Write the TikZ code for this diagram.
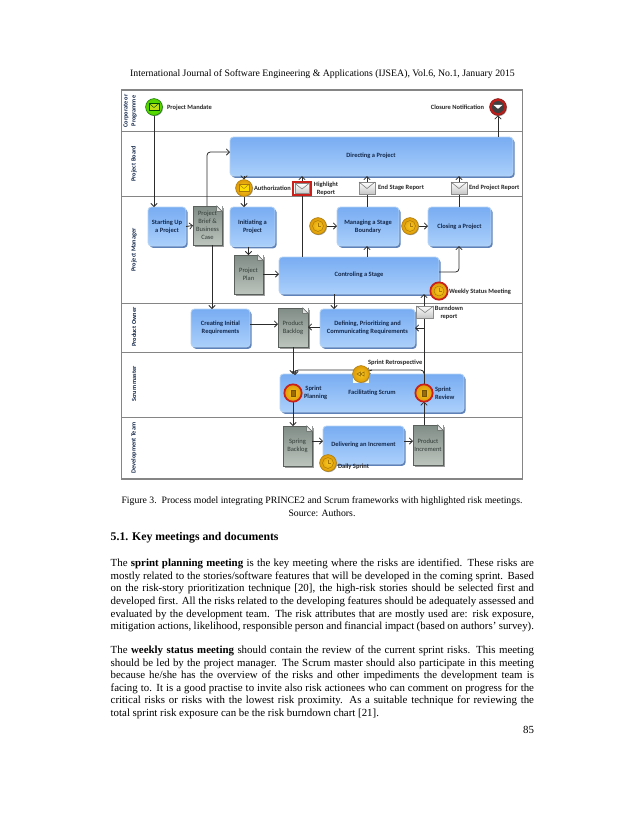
\documentclass[tikz,border=0pt]{standalone}
\usepackage{fontspec}
\setmainfont{Liberation Serif}
\newfontfamily\calb{Carlito}
\usetikzlibrary{arrows.meta,shadows,calc}
\pgfdeclarelayer{back}\pgfdeclarelayer{edge}\pgfdeclarelayer{top}
\pgfsetlayers{back,main,edge,top}
\definecolor{navy}{HTML}{14284A}
\definecolor{edgec}{HTML}{2C2C2C}
\definecolor{laneline}{HTML}{858585}
\definecolor{procrim}{HTML}{B5D4F5}
\definecolor{proctop}{HTML}{78ACF2}
\definecolor{procbot}{HTML}{ABD0FB}
\definecolor{procshade}{HTML}{5F82B8}
\definecolor{docline}{HTML}{5A615D}
\definecolor{doctop}{HTML}{808C86}
\definecolor{docbot}{HTML}{BCC4BD}
\definecolor{docshade}{HTML}{9C9C9C}
\definecolor{doctext}{HTML}{333C38}
\definecolor{goldin}{HTML}{F8C81E}
\definecolor{goldout}{HTML}{DD9A08}
\definecolor{goldrim}{HTML}{A87808}
\definecolor{ringred}{HTML}{C9201C}
\tikzset{
 every node/.style={inner sep=0pt,outer sep=0pt},
 procbox/.style={rectangle,rounded corners=2.6pt,draw=procrim,line width=.6pt,top color=proctop,bottom color=procbot,
   general shadow={fill=procshade,shadow xshift=1.2pt,shadow yshift=-1.4pt},
   align=center,text=navy,font=\calb\bfseries\fontsize{4.85}{6}\selectfont},
 docbox/.style={rectangle,draw=docline,line width=.5pt,top color=doctop,bottom color=docbot,
   general shadow={fill=docshade,shadow xshift=1.3pt,shadow yshift=-1.3pt},
   align=center,text=doctext,font=\calb\fontsize{4.9}{6}\selectfont},
 evlabel/.style={text=black!85,font=\calb\bfseries\fontsize{4.85}{6}\selectfont,align=center},
 lanelabel/.style={rotate=90,text=navy,font=\calb\bfseries\fontsize{4.7}{6}\selectfont,align=center},
 conn/.style={draw=edgec,line width=.6pt,-{Straight Barb[length=2.4pt,width=4.8pt,line width=.55pt]}},
 evcirc/.style={circle,minimum size=12.6pt,general shadow={fill=black!35,shadow xshift=.5pt,shadow yshift=-.6pt}},
 gold/.style={evcirc,inner color=goldin,outer color=goldout,draw=goldrim,line width=.4pt},
 ring/.style={circle,minimum size=13pt,inner color=goldin,outer color=goldout,draw=ringred,line width=1.3pt},
 envbox/.style={rectangle,draw=black!45,line width=.4pt,top color=white,bottom color=black!22},
 para/.style={anchor=west,font=\fontsize{8.15}{10}\selectfont},
}
\newcommand{\proc}[6]{%
 \pgfmathsetmacro\cxx{(#2+#4)/2}\pgfmathsetmacro\cyy{(#3+#5)/2}%
 \pgfmathsetmacro\www{(#4-#2)*.75}\pgfmathsetmacro\hhh{(#5-#3)*.75}%
 \node[procbox,minimum width=\www pt,minimum height=\hhh pt] (#1) at (\cxx,\cyy) {#6};}
\newcommand{\docu}[6]{%
 \pgfmathsetmacro\cxx{(#2+#4)/2}\pgfmathsetmacro\cyy{(#3+#5)/2}%
 \pgfmathsetmacro\www{(#4-#2)*.75}\pgfmathsetmacro\hhh{(#5-#3)*.75}%
 \node[docbox,minimum width=\www pt,minimum height=\hhh pt] (#1) at (\cxx,\cyy) {#6};
 \fill[white] ([xshift=-4pt,yshift=.3pt]#1.north east) -- ([xshift=.3pt,yshift=.3pt]#1.north east) -- ([xshift=.3pt,yshift=-4pt]#1.north east) -- cycle;
 \filldraw[draw=docline,fill=black!12,line width=.4pt] ([xshift=-4pt]#1.north east) -- ([yshift=-4pt]#1.north east) -- ([xshift=-4pt,yshift=-4pt]#1.north east) -- cycle;}
\newcommand{\env}[5]{%
 \node[envbox,minimum width=#4,minimum height=#5] (#1) at (#2,#3) {};
 \draw[black!55,line width=.4pt] (#1.north west) -- ([yshift=-.4pt]#1.center) -- (#1.north east);}
\newcommand{\timer}[3]{%
 \node[gold] (#1) at (#2,#3) {};
 \draw[goldrim,line width=.35pt] (#1) circle[radius=5.5];
 \draw[goldrim,line width=.35pt] ([yshift=2.6pt]#1.center) -- (#1.center) -- ([xshift=2pt]#1.center);}
\newcommand{\sheet}[3]{%
 \node[ring] (#1) at (#2,#3) {};
 \filldraw[fill=goldout!70!black,draw=goldrim!70!black,line width=.3pt] ([xshift=-1.6pt,yshift=-2.4pt]#1.center) rectangle ([xshift=1.6pt,yshift=2.4pt]#1.center);}
\newcommand{\pln}[3]{\node[para] (#1) at (110.7,#2) {\makebox[317.5pt][s]{#3}};}
\newcommand{\plnl}[3]{\node[para] (#1) at (110.7,#2) {#3};}
\begin{document}
\begin{tikzpicture}[x=.75pt,y=-.75pt]
\useasboundingbox (0,0) rectangle (638,826);
% page text
\node[font=\fontsize{7.35}{10}\selectfont] (head) at (322.5,74) {International Journal of Software Engineering \& Applications (IJSEA), Vol.6, No.1, January 2015};
\node[font=\fontsize{7.32}{10}\selectfont] (cap1) at (322,501.5) {Figure 3.\ \ Process model integrating PRINCE2 and Scrum frameworks with highlighted risk meetings.};
\node[font=\fontsize{7.32}{10}\selectfont] (cap2) at (322,513.5) {Source: Authors.};
\node[para,font=\bfseries\fontsize{8.8}{12}\selectfont] (sec) at (110.7,538) {5.1. Key meetings and documents};
\pln{p1}{564}{The \textbf{sprint planning meeting} is the key meeting where the risks are identified. These risks are}
\pln{p2}{576.7}{mostly related to the stories/software features that will be developed in the coming sprint. Based}
\pln{p3}{589.3}{on the risk-story prioritization technique [20], the high-risk stories should be selected first and}
\pln{p4}{601.9}{developed first. All the risks related to the developing features should be adequately assessed and}
\pln{p5}{614.5}{evaluated by the development team. The risk attributes that are mostly used are: risk exposure,}
\pln{p6}{627}{mitigation actions, likelihood, responsible person and financial impact (based on authors' survey).}
\pln{q1}{651}{The \textbf{weekly status meeting} should contain the review of the current sprint risks. This meeting}
\pln{q2}{663.6}{should be led by the project manager. The Scrum master should also participate in this meeting}
\pln{q3}{676}{because he/she has the overview of the risks and other impediments the development team is}
\pln{q4}{688.6}{facing to. It is a good practise to invite also risk actionees who can comment on progress for the}
\pln{q5}{701}{critical risks or risks with the lowest risk proximity. As a suitable technique for reviewing the}
\plnl{q6}{713.6}{total sprint risk exposure can be the risk burndown chart [21].}
\node[anchor=east,font=\fontsize{8.15}{10}\selectfont] (pg) at (534,730) {85};
% lanes
\begin{pgfonlayer}{back}
\fill[white] (0,0) rectangle (638,826);
\draw[laneline,line width=.8pt] (121.5,90) rectangle (522.5,479);
\foreach \yy in {131.7,196.7,303,352,417}{\draw[laneline,line width=.75pt] (121.5,\yy) -- (522.5,\yy);}
\end{pgfonlayer}
\node[lanelabel] (l1) at (130,111) {Corporate or\\Programme};
\node[lanelabel] (l2) at (134,164) {Project Board};
\node[lanelabel] (l3) at (134,250) {Project Manager};
\node[lanelabel] (l4) at (134,327) {Product Owner};
\node[lanelabel] (l5) at (134,384) {Scrum master};
\node[lanelabel] (l6) at (134,448) {Development Team};
% activities
\proc{dir}{230}{137}{513}{176}{}
\node[text=navy,font=\calb\bfseries\fontsize{4.85}{6}\selectfont] (dirt) at (371,156) {Directing a Project};
\proc{start}{148}{207}{186}{246}{Starting Up\\a Project}
\proc{init}{230}{207}{275}{246.5}{Initiating a\\Project}
\proc{ctrl}{279}{257}{439}{294}{}
\node[text=navy,font=\calb\bfseries\fontsize{4.85}{6}\selectfont] (ctrlt) at (359,275) {Controling a Stage};
\proc{mng}{337}{207}{399}{246}{Managing a Stage\\Boundary}
\proc{clo}{428}{207}{491}{246}{Closing a Project}
\proc{cre}{191}{309}{250}{347}{Creating Initial\\Requirements}
\proc{def}{320}{309}{415}{347}{Defining, Prioritizing and\\Communicating Requirements}
\proc{fac}{280}{374}{464}{412}{}
\node[text=navy,font=\calb\bfseries\fontsize{4.85}{6}\selectfont] (fact) at (372,393) {Facilitating Scrum};
\proc{del}{323}{426}{404}{464}{Delivering an Increment}
% documents
\docu{brief}{193}{206}{222}{245}{Project\\Brief \&\\Business\\Case}
\docu{plan}{234}{255}{263}{294}{Project\\Plan}
\docu{bklog}{278}{308}{308}{347}{Product\\Backlog}
\docu{spr}{283}{426}{312}{466}{Spring\\Backlog}
\docu{inc}{413}{425}{443}{465}{Product\\Increment}
% events on top
\begin{pgfonlayer}{top}
\node[evcirc,inner color=green!70!yellow!95!black,outer color=green!55!yellow!80!black,draw=green!45!black,line width=.4pt] (mand) at (154,107) {};
\filldraw[fill=yellow!75!green,draw=green!30!black,line width=.35pt] ([xshift=-3.6pt,yshift=-2.4pt]mand.center) rectangle ([xshift=3.6pt,yshift=2.6pt]mand.center);
\draw[green!30!black,line width=.35pt] ([xshift=-3.6pt,yshift=2.6pt]mand.center) -- ([yshift=-.4pt]mand.center) -- ([xshift=3.6pt,yshift=2.6pt]mand.center);
\node[evcirc,inner color=ringred!70!black,outer color=ringred,draw=ringred!60!black,line width=.4pt] (clos) at (498,107) {};
\fill[black!75] (clos) circle[radius=6];
\fill[white] ([xshift=-3.4pt,yshift=1.6pt]clos.center) -- ([xshift=3.4pt,yshift=1.6pt]clos.center) -- ([yshift=-1.4pt]clos.center) -- cycle;
\node[gold] (auth) at (244,188) {};
\filldraw[fill=yellow!80!orange,draw=goldrim,line width=.35pt] ([xshift=-3.6pt,yshift=-2.4pt]auth.center) rectangle ([xshift=3.6pt,yshift=2.6pt]auth.center);
\draw[goldrim,line width=.35pt] ([xshift=-3.6pt,yshift=2.6pt]auth.center) -- ([yshift=-.4pt]auth.center) -- ([xshift=3.6pt,yshift=2.6pt]auth.center);
\node[rectangle,draw=ringred,line width=.9pt,fill=white,minimum width=13.5pt,minimum height=9.8pt] (hlbox) at (302,188.5) {};
\env{hl}{302}{188.5}{10.5pt}{7.5pt}
\env{es}{367}{188}{12pt}{9pt}
\env{ep}{459}{188}{12pt}{9pt}
\env{burn}{425}{312}{13pt}{9pt}
\timer{t1}{318}{226}
\timer{t2}{410}{226}
\node[ring] (wk) at (439,291) {};
\draw[goldrim,line width=.35pt] (wk) circle[radius=5];
\draw[goldrim,line width=.35pt] ([yshift=2.6pt]wk.center) -- (wk.center) -- ([xshift=2pt]wk.center);
\timer{dly}{328}{463}
\sheet{splan}{293}{393}
\sheet{srev}{424}{393}
\fill[white!85!yellow] (353,375) rectangle (369,383);
\node[gold] (ret) at (361,374) {};
\draw[goldrim!80!black,line width=.35pt] ([xshift=-.4pt]ret.center) -- ([xshift=2.4pt,yshift=1.6pt]ret.center) -- ([xshift=2.4pt,yshift=-1.6pt]ret.center) -- cycle;
\draw[goldrim!80!black,line width=.35pt] ([xshift=-3pt]ret.center) -- ([xshift=-.4pt,yshift=1.6pt]ret.center) -- ([xshift=-.4pt,yshift=-1.6pt]ret.center) -- cycle;
\end{pgfonlayer}
% labels
\node[evlabel,anchor=west] (tmand) at (167,108) {Project Mandate};
\node[evlabel,anchor=east] (tclos) at (484,107) {Closure Notification};
\node[evlabel,anchor=west] (tauth) at (254,188) {Authorization};
\node[evlabel] (thl) at (326,189) {Highlight\\Report};
\node[evlabel,anchor=west] (tes) at (378,188) {End Stage Report};
\node[evlabel,anchor=west] (tep) at (469,188) {End Project Report};
\node[evlabel,anchor=west] (twk) at (449,292) {Weekly Status Meeting};
\node[evlabel] (tburn) at (449,313) {Burndown\\report};
\node[evlabel,anchor=west] (tret) at (368,363) {Sprint Retrospective};
\node[evlabel,text=navy,anchor=west,align=left] (tsp) at (304,393) {\ Sprint\\Planning};
\node[evlabel,text=navy,anchor=west,align=left] (tsr) at (435,393) {Sprint\\Review};
\node[evlabel,anchor=west] (tdly) at (338,467) {Daily Sprint};
% connectors
\coordinate (brup) at (207,206);
\coordinate (brdn) at (212,245);
\coordinate (bend1) at (207,152);
\coordinate (c2) at (439,272);
\coordinate (c2b) at (459,272);
\coordinate (loopa) at (424,370);
\coordinate (loopb) at (295,370);
\coordinate (loopc) at (295,375);
\coordinate (rettip) at (366,372);
\coordinate (retst) at (372,370);
\coordinate (burnout) at (424,328);
\coordinate (yplan) at (0,274);
\coordinate (ycre) at (0,324);
\coordinate (ydef) at (0,327);
\coordinate (ydel) at (0,441);
\coordinate (xdef) at (334,0);
\begin{pgfonlayer}{edge}
\draw[conn] (mand) -- (mand |- start.north);
\draw[conn] (start.east) -- (brief.west);
\draw[conn,rounded corners=2.5pt] (brup) -- (bend1) -- (dir.west |- bend1);
\draw[conn] (brdn) -- (brdn |- cre.north);
\draw[conn] (auth |- dir.south) -- ([yshift=-2.5pt]auth |- dir.south);
\draw[conn] (auth) -- (auth |- init.north);
\draw[conn] (plan.north |- init.south) -- (plan.north);
\draw[conn] (plan.east |- yplan) -- (ctrl.west |- yplan);
\draw[conn] (hl |- ctrl.north) -- (hl |- dir.south);
\draw[conn] (t1) -- (mng.west |- t1);
\draw[conn] (t2) -- (clo.west |- t2);
\draw[conn] (es |- mng.north) -- (es |- dir.south);
\draw[conn] (ep |- clo.north) -- (ep |- dir.south);
\draw[conn] (es |- ctrl.north) -- (es |- mng.south);
\draw[conn,rounded corners=2.5pt] (c2) -- (c2b) -- (c2b |- clo.south);
\draw[conn] (clos |- dir.north) -- (clos);
\draw[conn] (xdef |- ctrl.south) -- (xdef |- def.north);
\draw[conn] (cre.east |- ycre) -- (bklog.west |- ycre);
\draw[conn] (def.west |- ydef) -- (bklog.east |- ydef);
\draw[conn] (bklog.south -| splan) -- (splan |- fac.north);
\draw[conn] (splan) -- (splan |- spr.north);
\draw[conn,rounded corners=2.5pt] (srev |- fac.north) -- (loopa) -- (loopb) -- (loopc);
\draw[conn] (retst) -- (rettip);
\draw[conn] (inc.north -| srev) -- (srev);
\draw[conn] (srev) -- (srev |- ctrl.south);
\draw[conn] (burnout) -- (def.east |- burnout);
\draw[conn] (spr.east |- ydel) -- (del.west |- ydel);
\draw[conn] (del.east |- ydel) -- (inc.west |- ydel);
\end{pgfonlayer}
\end{tikzpicture}
\end{document}
